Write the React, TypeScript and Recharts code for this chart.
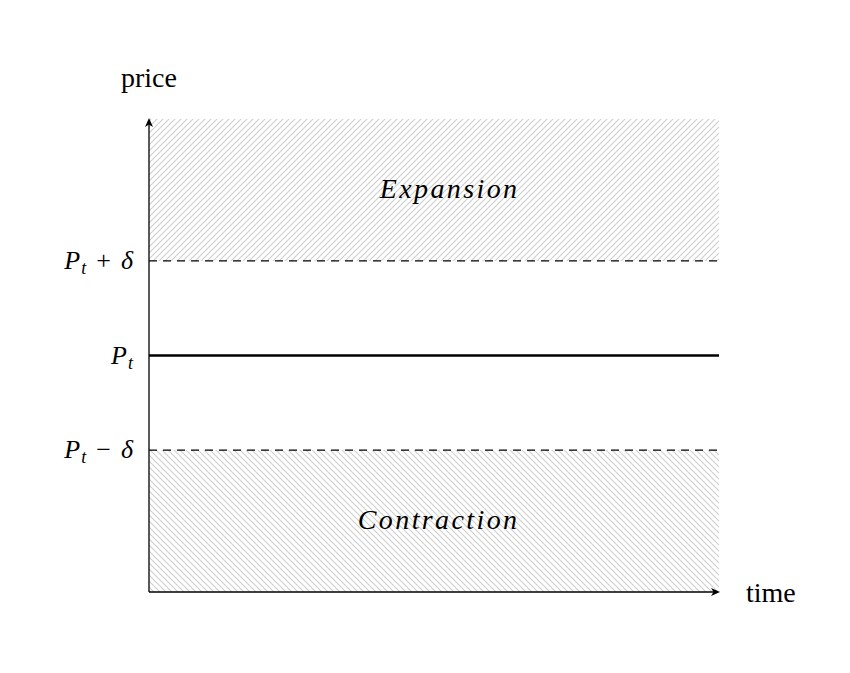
import React from 'react';
import { ComposedChart, Line, XAxis, YAxis, ReferenceLine, ReferenceArea } from 'recharts';

const TIME = [0, 10];
const PRICE = [5, 5];
const P_T = 5;
const DELTA = 2;
const Y_MIN = 0;
const Y_MAX = 10;
const X_MIN = 0;
const X_MAX = 10;
const Y_TICKS = [P_T - DELTA, P_T, P_T + DELTA];
const TICK_OPS = ['−', '', '+'];
const REGION_LABELS = ['Expansion', 'Contraction'];
const AXIS_LABELS = ['price', 'time'];

const data = TIME.map((t, i) => ({ time: t, price: PRICE[i] }));

const SERIF = '"Liberation Serif", "Times New Roman", serif';

const PriceTick = (props: any) => {
  const { x, y, payload } = props;
  const idx = Y_TICKS.indexOf(payload.value);
  const op = TICK_OPS[idx];
  return (
    <text x={x} y={y + 8} textAnchor="end" fontFamily={SERIF} fontSize={26} fill="#000">
      <tspan fontStyle="italic">P</tspan>
      <tspan fontStyle="italic" fontSize={18} dy={5} dx={1}>t</tspan>
      {op ? <tspan dy={-5} dx={10}>{op}</tspan> : <tspan dy={-5}>{''}</tspan>}
      {op ? <tspan dx={10} fontStyle="italic">δ</tspan> : null}
    </text>
  );
};

const arrowUp = (x: number, y: number) =>
  `M${x},${y} L${x - 4},${y + 9} L${x},${y + 6.5} L${x + 4},${y + 9} Z`;
const arrowRight = (x: number, y: number) =>
  `M${x},${y} L${x - 9},${y - 4} L${x - 6.5},${y} L${x - 9},${y + 4} Z`;

const VerticalAxisShape = (props: any) => {
  const { x1, y1, x2, y2 } = props;
  const top = Math.min(y1, y2);
  const bottom = Math.max(y1, y2);
  return (
    <g>
      <line x1={x1} y1={bottom} x2={x2} y2={top + 2} stroke="#000" strokeWidth={1.3} />
      <path d={arrowUp(x1, top - 1)} fill="#000" />
      <text x={x1} y={top - 32} textAnchor="middle" fontFamily={SERIF} fontSize={28} fill="#000">
        {AXIS_LABELS[0]}
      </text>
    </g>
  );
};

const HorizontalAxisShape = (props: any) => {
  const { x1, y1, x2 } = props;
  const left = Math.min(x1, x2);
  const right = Math.max(x1, x2);
  return (
    <g>
      <line x1={left} y1={y1} x2={right - 2} y2={y1} stroke="#000" strokeWidth={1.3} />
      <path d={arrowRight(right + 1, y1)} fill="#000" />
      <text x={right + 27} y={y1 + 10} textAnchor="start" fontFamily={SERIF} fontSize={28} fill="#000">
        {AXIS_LABELS[1]}
      </text>
    </g>
  );
};

const regionLabel = (text: string) => (props: any) => {
  const vb = props.viewBox || {};
  const x = vb.x + vb.width * 0.65;
  const y = vb.y + vb.height / 2 + 8;
  return (
    <text x={x} y={y} textAnchor="end" fontFamily={SERIF} fontStyle="italic" fontSize={28}
      letterSpacing={2.4} fill="#000">
      {text}
    </text>
  );
};

export default function App() {
  return (
    <div style={{ position: 'absolute', left: 0, top: 0, width: 850, height: 673, background: '#fff' }}>
      <ComposedChart
        width={850}
        height={673}
        data={data}
        margin={{ top: 119, right: 131, bottom: 81, left: 49 }}
      >
        <defs>
          <pattern id="hatchNE" patternUnits="userSpaceOnUse" width="6" height="6">
            <path d="M-1,1 l2,-2 M0,6 l6,-6 M5,7 l2,-2" stroke="#cecece" strokeWidth={1.1} />
          </pattern>
          <pattern id="hatchNW" patternUnits="userSpaceOnUse" width="6" height="6">
            <path d="M-1,5 l2,2 M0,0 l6,6 M5,-1 l2,2" stroke="#cecece" strokeWidth={1.1} />
          </pattern>
        </defs>
        <XAxis dataKey="time" type="number" domain={[X_MIN, X_MAX]} hide />
        <YAxis
          type="number"
          domain={[Y_MIN, Y_MAX]}
          ticks={Y_TICKS}
          width={100}
          axisLine={false}
          tickLine={false}
          tickSize={0}
          tickMargin={16}
          tick={<PriceTick />}
          interval={0}
        />
        <ReferenceArea
          x1={X_MIN}
          x2={X_MAX}
          y1={P_T + DELTA}
          y2={Y_MAX}
          fill="url(#hatchNE)"
          fillOpacity={1}
          stroke="none"
          label={regionLabel(REGION_LABELS[0])}
        />
        <ReferenceArea
          x1={X_MIN}
          x2={X_MAX}
          y1={Y_MIN}
          y2={P_T - DELTA}
          fill="url(#hatchNW)"
          fillOpacity={1}
          stroke="none"
          label={regionLabel(REGION_LABELS[1])}
        />
        <ReferenceLine y={P_T + DELTA} stroke="#000" strokeWidth={1.1} strokeDasharray="8 6" />
        <ReferenceLine y={P_T - DELTA} stroke="#000" strokeWidth={1.1} strokeDasharray="8 6" />
        <Line
          type="linear"
          dataKey="price"
          stroke="#000"
          strokeWidth={2.5}
          dot={false}
          activeDot={false}
          isAnimationActive={false}
        />
        <ReferenceLine
          segment={[{ x: X_MIN, y: Y_MIN }, { x: X_MIN, y: Y_MAX }]}
          shape={<VerticalAxisShape />}
          ifOverflow="visible"
        />
        <ReferenceLine
          segment={[{ x: X_MIN, y: Y_MIN }, { x: X_MAX, y: Y_MIN }]}
          shape={<HorizontalAxisShape />}
          ifOverflow="visible"
        />
      </ComposedChart>
    </div>
  );
}
